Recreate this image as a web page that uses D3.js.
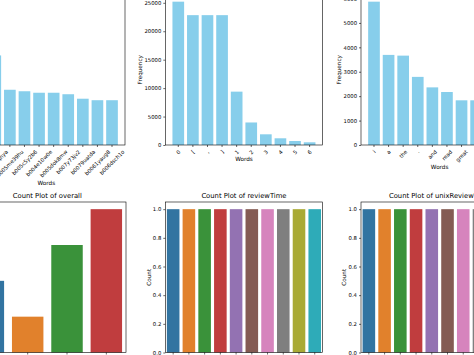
<!DOCTYPE html>
<html><head><meta charset="utf-8">
<script src="https://cdn.jsdelivr.net/npm/d3@7"></script>
<style>
body{margin:0;background:#fff}
svg{display:block}
text{font-family:"DejaVu Sans",sans-serif;fill:#000}
</style>
</head><body><svg id="c" width="474" height="355"></svg>
<script>
// ---- data ----
const asinWords = ["b000fa64pk","b000qcqnya","b005me39hu","b005c5y2b6","b004e10w0e","b005dok8mw","b007y73jv2","b0079uatda","b0061yaug8","b006dsch1o"];
const asinFreq = [96, 60, 37, 36, 35, 35, 34, 31, 30, 30];
const asinTicks = [0, 20, 40, 60, 80];

const helpfulWords = ["0","[",",","]","1","2","3","4","5","6"];
const helpfulFreq = [25200, 22830, 22830, 22830, 9380, 3960, 1880, 1180, 700, 475];
const helpfulTicks = [0, 5000, 10000, 15000, 20000, 25000];

const summaryWords = ["i","a","the",".","and","read","great",",","book","!"];
const summaryFreq = [5870, 3690, 3660, 2790, 2360, 2170, 1830, 1830, 1700, 1550];
const summaryTicks = [0, 1000, 2000, 3000, 4000, 5000, 6000];

const overallCats = ["2","3","4","5"];
const overallCounts = [2, 1, 3, 4];
const overallTicks = [0, 1, 2, 3, 4];

const reviewTimeCats = ["01 1, 2014","01 10, 2014","01 11, 2014","01 12, 2014","01 13, 2014","01 14, 2014","01 15, 2014","01 16, 2014","01 17, 2014","01 18, 2014"];
const reviewTimeCounts = [1,1,1,1,1,1,1,1,1,1];

const unixCats = ["1388534400","1389312000","1389398400","1389484800","1389571200","1389657600","1389744000","1389830400","1389916800","1390003200"];
const unixCounts = [1,1,1,1,1,1,1,1,1,1];
const countTicks = [0, 0.2, 0.4, 0.6, 0.8, 1.0];

const palette = ["#3274a1","#e1812c","#3a923a","#c03d3e","#9372b2","#845b53","#d684bd","#7f7f7f","#a9aa35","#2eabb8"];

// ---- layout ----
const svg = d3.select("#c");
const colX = [-31.3, 165.3, 361];
const colW = 157.3;
const rowY = [[-5.5, 145], [202, 352.5]];
const FS_TITLE = 6.8, FS_LABEL = 5.7, FS_TICK = 5.3;

function panel(o) {
  const x0 = o.x0, x1 = o.x0 + colW, y0 = o.y0, y1 = o.y1;
  const g = svg.append("g");
  const x = d3.scaleBand().domain(o.cats).range([x0, x1])
    .paddingInner(0.2).paddingOuter(o.outer);
  const ymax = d3.max(o.vals) * 1.05;
  const y = d3.scaleLinear().domain([0, ymax]).range([y1, y0]);

  g.selectAll("rect.bar").data(o.vals).join("rect")
    .attr("class","bar")
    .attr("x", (d,i) => x(o.cats[i]))
    .attr("width", x.bandwidth())
    .attr("y", d => y(d))
    .attr("height", d => y1 - y(d))
    .attr("fill", (d,i) => o.colors ? o.colors[i % o.colors.length] : o.color);

  // y axis
  const ya = g.append("g").attr("transform", `translate(${x0},0)`)
    .call(d3.axisLeft(y).tickValues(o.yticks).tickSize(2).tickPadding(2)
      .tickFormat(o.showY ? (o.yfmt || d3.format("d")) : ""));
  ya.select(".domain").remove();
  ya.selectAll("line").attr("stroke","#000").attr("stroke-width",0.6);
  ya.selectAll("text").attr("font-size", FS_TICK).attr("fill","#000")
    .attr("font-family","DejaVu Sans");
  if (!o.showY) ya.selectAll(".tick text").remove();

  // x axis
  const xa = g.append("g").attr("transform", `translate(0,${y1})`)
    .call(d3.axisBottom(x).tickSize(2).tickPadding(2));
  xa.select(".domain").remove();
  xa.selectAll("line").attr("stroke","#000").attr("stroke-width",0.6);
  let maxH = 0;
  if (!o.showX) {
    xa.selectAll(".tick text").remove();
  } else {
    xa.selectAll(".tick text").each(function(d) {
      const t = d3.select(this);
      t.attr("font-size", FS_TICK).attr("fill","#000").attr("font-family","DejaVu Sans");
      const w = this.getComputedTextLength();
      const h = FS_TICK;
      const bb = (w + h) * Math.SQRT1_2;
      maxH = Math.max(maxH, bb);
      t.attr("y", null).attr("dy", null)
        .attr("text-anchor","middle").attr("dominant-baseline","central")
        .attr("transform", `translate(0,${4 + bb/2}) rotate(-45)`);
    });
  }

  // spines
  g.append("rect").attr("x", x0).attr("y", y0).attr("width", colW).attr("height", y1 - y0)
    .attr("fill","none").attr("stroke","#000").attr("stroke-width",0.6);

  // x label
  if (o.xlabel) {
    g.append("text").attr("x", (x0 + x1)/2).attr("y", y1 + 4 + maxH + 2.3)
      .attr("text-anchor","middle").attr("dominant-baseline","hanging")
      .attr("font-size", FS_LABEL).text(o.xlabel);
  }
  // y label
  if (o.ylabel) {
    let maxW = 0;
    ya.selectAll(".tick text").each(function(){ maxW = Math.max(maxW, this.getComputedTextLength()); });
    const lx = x0 - 4 - maxW - 2.3;
    g.append("text").attr("transform", `translate(${lx},${(y0+y1)/2}) rotate(-90)`)
      .attr("text-anchor","middle").attr("font-size", FS_LABEL).text(o.ylabel);
  }
  if (o.title) {
    g.append("text").attr("x", (x0 + x1)/2).attr("y", y0 - 4)
      .attr("text-anchor","middle").attr("font-size", FS_TITLE).text(o.title);
  }
}

// top row
panel({x0: colX[0] - 1, y0: rowY[0][0], y1: rowY[0][1], cats: asinWords, vals: asinFreq, outer: 0.49,
  color: "#87ceeb", yticks: asinTicks, showX: true, showY: false, xlabel: "Words"});
panel({x0: colX[1], y0: rowY[0][0], y1: rowY[0][1], cats: helpfulWords, vals: helpfulFreq, outer: 0.49,
  color: "#87ceeb", yticks: helpfulTicks, showX: true, showY: true, xlabel: "Words", ylabel: "Frequency"});
panel({x0: colX[2], y0: rowY[0][0], y1: rowY[0][1], cats: summaryWords, vals: summaryFreq, outer: 0.49,
  color: "#87ceeb", yticks: summaryTicks, showX: true, showY: true, xlabel: "Words", ylabel: "Frequency"});

// bottom row
panel({x0: colX[0], y0: rowY[1][0], y1: rowY[1][1], cats: overallCats, vals: overallCounts, outer: 0.1,
  colors: palette, yticks: overallTicks, showX: false, showY: false, title: "Count Plot of overall"});
panel({x0: colX[1], y0: rowY[1][0], y1: rowY[1][1], cats: reviewTimeCats, vals: reviewTimeCounts, outer: 0.1,
  colors: palette, yticks: countTicks, yfmt: d3.format(".1f"), showX: false, showY: true, title: "Count Plot of reviewTime", ylabel: "Count"});
panel({x0: colX[2], y0: rowY[1][0], y1: rowY[1][1], cats: unixCats, vals: unixCounts, outer: 0.1,
  colors: palette, yticks: countTicks, yfmt: d3.format(".1f"), showX: false, showY: true, title: "Count Plot of unixReviewTime", ylabel: "Count"});
</script>
</body></html>
